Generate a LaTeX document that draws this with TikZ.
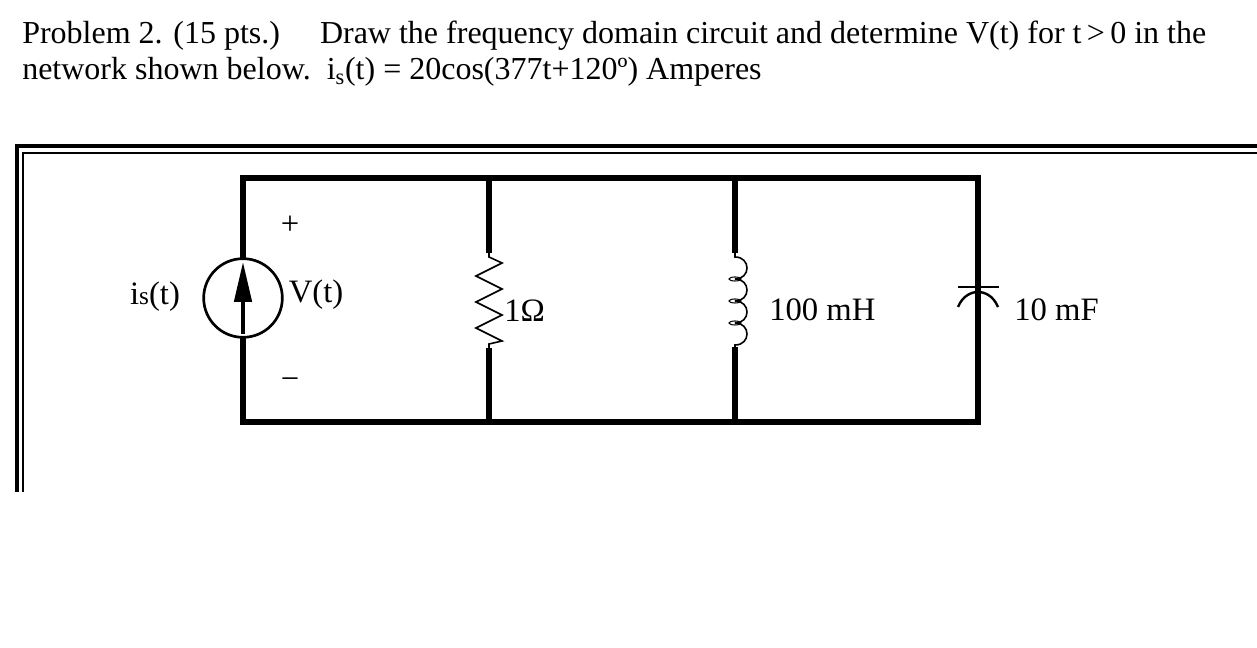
\documentclass[tikz,border=0pt]{standalone}
\usepackage{fontspec}
\setmainfont{Liberation Serif}
\usetikzlibrary{arrows.meta}
\begin{document}
\begin{tikzpicture}[x=0.75pt,y=-0.75pt,
  wire/.style={line width=4.5pt},
  thin/.style={line width=1.2pt},
  lbl/.style={inner sep=0pt,font=\fontsize{24.5}{28}\selectfont},
  ttl/.style={inner sep=0pt,anchor=base west,font=\fontsize{24}{28}\selectfont}]
\useasboundingbox (0,0) rectangle (1257,648);
% title
\node[ttl] (t1) at (22,44) {Problem 2. (15 pts.)\quad\ Draw the frequency domain circuit and determine V(t) for t\,\textgreater\,0 in the};
\node[ttl] (t2) at (22,80) {network shown below.\ \ i\textsubscript{s}(t) = 20cos(377t+120º) Amperes};
% frame
\draw[line width=2.6pt] (17,492) -- (17,146) -- (1257,146);
\draw[line width=1.3pt] (23,492) -- (23,153) -- (1257,153);
% nodes
\coordinate (tl) at (243,178); \coordinate (tr) at (978,178);
\coordinate (bl) at (243,422); \coordinate (br) at (978,422);
\coordinate (rt) at (489,178); \coordinate (rb) at (489,422);
\coordinate (lt) at (735,178); \coordinate (lb) at (735,422);
\coordinate (cm) at (978,298);
\node[circle,draw,line width=2pt,minimum size=59pt,inner sep=0pt] (src) at (243,298) {};
% wires
\draw[wire,line cap=rect,line join=miter] (src.north) -- (tl) -- (tr) -- (br) -- (bl) -- (src.south);
\draw[wire] (rt) -- (489,253); \draw[wire] (489,348) -- (rb);
\draw[wire] (lt) -- (735,253); \draw[wire] (735,347) -- (lb);
% source arrow
\draw[line width=2.8pt,-{Triangle[length=30pt,width=13pt]}] (243,334) -- (243,262);
% resistor
\draw[thin,line join=miter] (489,253) -- (489,257) -- (502,263) -- (476,276) -- (502,289) -- (476,302) -- (502,315) -- (476,328) -- (502,341) -- (489,344) -- (489,348);
% inductor
\draw[thin] (735,253) -- (735,257)
  .. controls (751,257) and (751,279) .. (735,279)
  .. controls (751,279) and (751,301) .. (735,301)
  .. controls (751,301) and (751,323) .. (735,323)
  .. controls (751,323) and (751,345) .. (735,345) -- (735,347);
\foreach \yy in {279,301,323}{\draw[line width=0.8pt] (735,\yy) ellipse (6 and 2);}
% capacitor
\draw[line width=1.8pt] (958,287) -- (999,287);
\draw[line width=1.8pt] (958,307) .. controls (963,295) and (972,292) .. (978,292) .. controls (984,292) and (993,295) .. (998,307);
\draw[line width=4.5pt] (978,270) -- (cm) -- (978,330);
% labels
\node[lbl] (is) at (155,297) {i{\fontsize{19}{19}\selectfont s}(t)};
\node[lbl] (vt) at (316,295) {V(t)};
\node[lbl] (pl) at (290,225) {+};
\node[lbl] (mi) at (290,384) {\textminus};
\node[lbl,anchor=west] (r) at (504,311) {1Ω};
\node[lbl,anchor=west] (l) at (769,310) {100 mH};
\node[lbl,anchor=west] (c) at (1014,310) {10 mF};
\end{tikzpicture}
\end{document}
